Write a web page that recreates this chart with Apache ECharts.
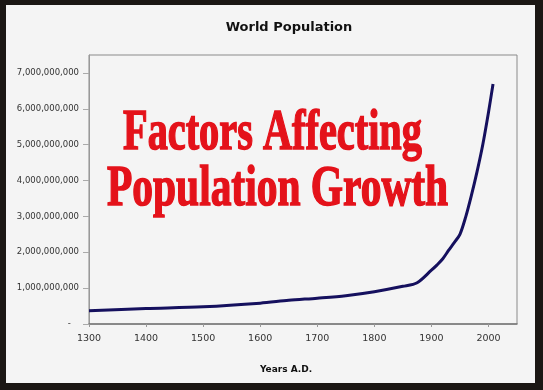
<!DOCTYPE html>
<html>
<head>
<meta charset="utf-8">
<script src="https://cdn.jsdelivr.net/npm/echarts@6/dist/echarts.min.js"></script>
<style>
html,body{margin:0;padding:0;background:#1b1714;}
#frame{position:absolute;left:6px;top:5px;width:529px;height:378px;background:#f4f4f4;}
#chart{position:absolute;left:0;top:0;width:543px;height:390px;}
</style>
</head>
<body>
<div id="frame"></div>
<div id="chart"></div>
<script>
// Data
var years = [1300, 1400, 1500, 1600, 1650, 1700, 1750, 1800, 1850, 1875, 1900, 1910, 1920, 1930, 1940, 1950, 1960, 1970, 1980, 1990, 2000, 2008];
var population = [370e6, 430e6, 480e6, 580e6, 660e6, 720e6, 790e6, 900e6, 1050e6, 1150e6, 1500e6, 1650e6, 1820e6, 2050e6, 2270e6, 2500e6, 2980e6, 3580e6, 4250e6, 5000e6, 5900e6, 6690e6];
var yTicks = [0, 1e9, 2e9, 3e9, 4e9, 5e9, 6e9, 7e9];
var xTicks = [1300, 1400, 1500, 1600, 1700, 1800, 1900, 2000];
var chartTitle = 'World Population';
var xAxisTitle = 'Years A.D.';
var overlayLines = ['Factors Affecting', 'Population Growth'];

var chart = echarts.init(document.getElementById('chart'), null, {renderer: 'canvas'});
var pts = years.map(function (y, i) { return [y, population[i]]; });

chart.setOption({
  backgroundColor: 'transparent',
  animation: false,
  grid: {left: 89, top: 55, right: 26, bottom: 66, show: true, borderColor: '#8a8a8a', borderWidth: 1, backgroundColor: 'transparent'},
  xAxis: {
    type: 'value', min: 1300, max: 2050, interval: 100,
    axisLine: {show: true, lineStyle: {color: '#777', width: 1.5}},
    axisTick: {show: true, length: 3, lineStyle: {color: '#999'}, customValues: xTicks},
    axisLabel: {color: '#333', fontFamily: 'DejaVu Sans', fontSize: 9.5, margin: 10, customValues: xTicks,
      formatter: function (v) { return String(v); }},
    splitLine: {show: false}
  },
  yAxis: {
    type: 'value', min: 0, max: 7.5e9, interval: 1e9,
    axisLine: {show: true, lineStyle: {color: '#999', width: 1}},
    axisTick: {show: true, length: 6, lineStyle: {color: '#aaa'}, customValues: yTicks},
    axisLabel: {color: '#333', fontFamily: 'DejaVu Sans', fontSize: 8.5, margin: 10, customValues: yTicks,
      formatter: function (v) { return v === 0 ? '-   ' : v.toLocaleString('en-US'); }},
    splitLine: {show: false}
  },
  series: [{
    type: 'line', data: pts, showSymbol: false, smooth: 0.3,
    lineStyle: {color: '#15105e', width: 3}, z: 3
  }],
  graphic: [
    {type: 'text', x: 289, y: 28, silent: true, style: {text: chartTitle, fill: '#111', font: 'bold 13px "DejaVu Sans"', textAlign: 'center', textVerticalAlign: 'middle'}},
    {type: 'text', x: 286, y: 370, silent: true, style: {text: xAxisTitle, fill: '#111', font: 'bold 9px "DejaVu Sans"', textAlign: 'center', textVerticalAlign: 'middle'}},
    {type: 'text', x: 123, y: 135, scaleX: 0.72, silent: true, z: 10, style: {text: overlayLines[0], fill: '#e4121a', stroke: '#e4121a', lineWidth: 1.5, font: 'bold 56px "Liberation Serif"', textAlign: 'left', textVerticalAlign: 'middle'}},
    {type: 'text', x: 107, y: 191, scaleX: 0.74, silent: true, z: 10, style: {text: overlayLines[1], fill: '#e4121a', stroke: '#e4121a', lineWidth: 1.5, font: 'bold 56px "Liberation Serif"', textAlign: 'left', textVerticalAlign: 'middle'}}
  ]
});
</script>
</body>
</html>
